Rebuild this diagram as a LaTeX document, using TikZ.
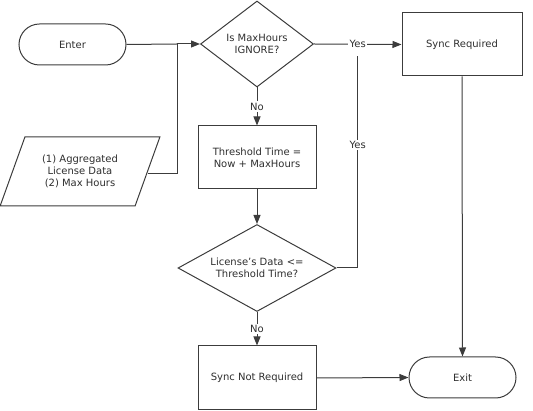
\documentclass[tikz,border=0pt]{standalone}
\usepackage{fontspec}
\setmainfont{DejaVu Sans}
\usetikzlibrary{shapes.geometric,shapes.misc,arrows.meta}
\definecolor{ln}{HTML}{3C3C3C}
\definecolor{tx}{HTML}{2E2E2E}
\begin{document}
\begin{tikzpicture}[x=1pt,y=-1pt,
  every node/.style={font=\fontsize{10}{12.3}\selectfont, text=tx, align=center},
  shp/.style={draw=ln, line width=1pt, inner sep=0pt},
  term/.style={shp, rounded rectangle, minimum width=107pt, minimum height=41pt},
  proc/.style={shp, rectangle, minimum width=118pt, minimum height=63pt},
  dec/.style={shp, diamond},
  lbl/.style={fill=white, inner sep=1.5pt},
  conn/.style={draw=ln, line width=1pt},
  arr/.style={conn, -{Triangle[length=9pt,width=7pt]}}]
\useasboundingbox (0,0) rectangle (533,411);

\node[term] (enter) at (72.5,44.5) {Enter};
\node[dec, aspect=1.3, minimum width=113pt, minimum height=86pt] (d1) at (257,44) {Is MaxHours\\IGNORE?};
\node[proc, minimum width=120pt] (sreq) at (462,44.5) {Sync Required};
\node[proc] (thr) at (257,157.5) {Threshold Time =\\Now + MaxHours};
\node[shp, trapezium, trapezium stretches=true, trapezium left angle=63, trapezium right angle=117,
      minimum width=160pt, minimum height=69pt] (para) at (80,171.5) {(1) Aggregated\\License Data\\(2) Max Hours};
\node[dec, aspect=1.8, minimum width=158pt, minimum height=87pt] (d2) at (257,268) {License’s Data <=\\Threshold Time?};
\node[proc, minimum height=64pt] (snr) at (257,378) {Sync Not Required};
\node[term] (exit) at (462.5,377.5) {Exit};

\coordinate (j) at (177,44);

\draw[conn] (enter.east) -- (j);
\draw[conn] ([yshift=-2.5pt]para.east) -| (j);
\draw[arr] (j) -- (d1.west);
\draw[arr] (d1.south) -- node[lbl] {No} (thr.north);
\draw[arr] (d1.east) -- node[lbl] (yes1) {Yes} (sreq.west);
\draw[conn] (d2.east) -| node[lbl, pos=0.79] {Yes} ([yshift=-6pt]yes1.south);
\draw[arr] (thr.south) -- (d2.north);
\draw[arr] (d2.south) -- node[lbl] {No} (snr.north);
\draw[arr] (sreq.south) -- (exit.north);
\draw[arr] (snr.east) -- (exit.west);
\end{tikzpicture}
\end{document}
